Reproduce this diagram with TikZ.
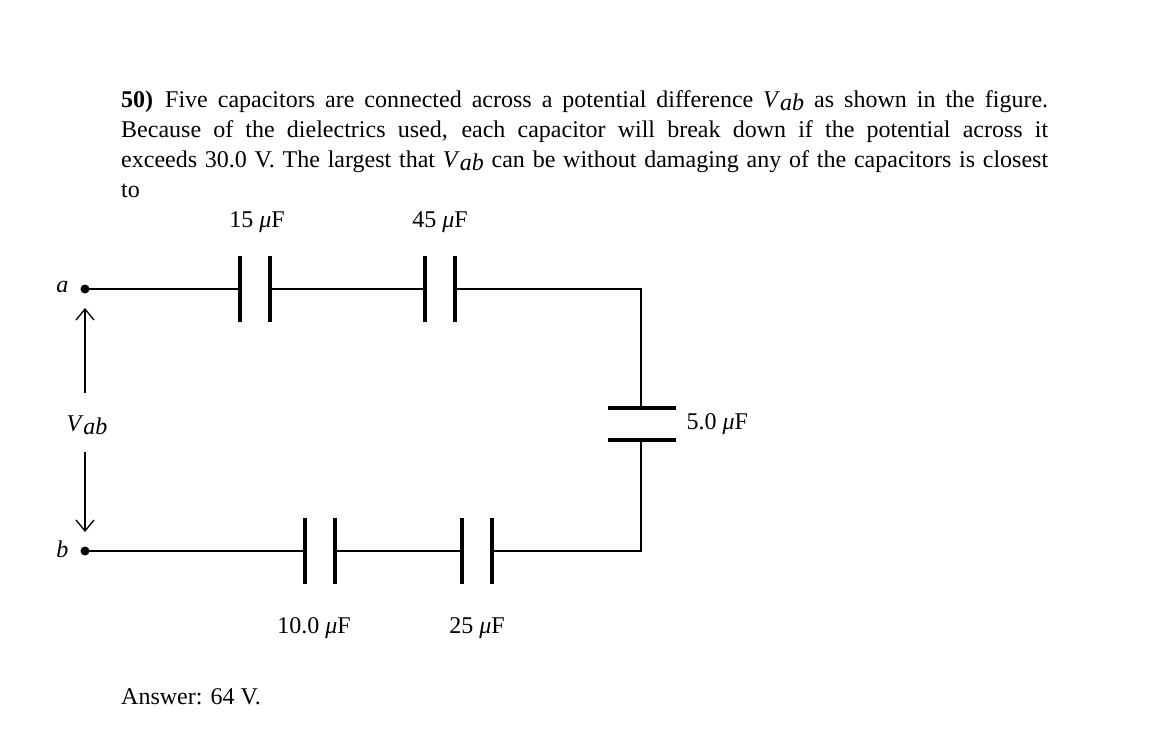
\documentclass[tikz,border=0pt]{standalone}
\usepackage{fontspec}
\setmainfont{Liberation Serif}
\usetikzlibrary{arrows.meta}
\newcommand{\Vab}{\textit{V}\raisebox{-0.3ex}{\textit{ab}}}
\newcommand{\uF}{ \textit{μ}F}
\begin{document}
\begin{tikzpicture}[x=1pt,y=-1pt,
  wire/.style={line width=2.8pt},
  plate/.style={line width=3.2pt},
  lbl/.style={font=\fontsize{24}{28}\selectfont},
  arr/.style={line width=1.3pt,-{Straight Barb[length=11pt,width=18pt]}}]
\useasboundingbox (0,0) rectangle (1170,741);
\node[anchor=north west,text width=927pt,align=justify,inner sep=0pt,font=\fontsize{24}{30}\selectfont] (q) at (121,90)
{\hyphenpenalty=10000 \textbf{50)}\enspace Five capacitors are connected across a potential difference \Vab{} as shown in the figure.\linebreak Because of the dielectrics used, each capacitor will break down if the potential across it\linebreak exceeds 30.0 V. The largest that \Vab{} can be without damaging any of the capacitors is closest\linebreak to};
\coordinate (a) at (85,289);
\coordinate (b) at (85,551);
\coordinate (tr) at (641,289);
\coordinate (br) at (641,551);
\fill (a) circle (4.5pt) (b) circle (4.5pt);
\node[lbl,anchor=east] (la) at (72,287) {\textit{a}};
\node[lbl,anchor=east] (lb) at (72,549) {\textit{b}};
\coordinate (c1l) at (240,289); \coordinate (c1r) at (270,289);
\coordinate (c2l) at (425,289); \coordinate (c2r) at (455,289);
\draw[wire] (a) -- (c1l) (c1r) -- (c2l) (c2r) -- (tr) -- (641,408);
\draw[plate] (240,256) -- (240,322) (270,256) -- (270,322);
\draw[plate] (425,256) -- (425,322) (455,256) -- (455,322);
\node[lbl] (l1) at (257,222) {15\uF};
\node[lbl] (l2) at (440,222) {45\uF};
\draw[plate] (608,408) -- (676,408) (608,440) -- (676,440);
\draw[wire] (641,440) -- (br) -- (492,551);
\node[lbl,anchor=west] (l3) at (683,424) {5.0\uF};
\draw[plate] (462,518) -- (462,584) (492,518) -- (492,584);
\draw[plate] (305,518) -- (305,584) (335,518) -- (335,584);
\draw[wire] (462,551) -- (335,551) (305,551) -- (b);
\node[lbl] (l4) at (314,628) {10.0\uF};
\node[lbl] (l5) at (477,628) {25\uF};
\node[lbl] (v) at (87,425) {\Vab};
\draw[arr] (85,393) -- (85,308);
\draw[arr] (85,452) -- (85,532);
\node[anchor=west,inner sep=0pt,font=\fontsize{24}{28}\selectfont] (ans) at (121,697) {Answer: 64 V.};
\end{tikzpicture}
\end{document}
